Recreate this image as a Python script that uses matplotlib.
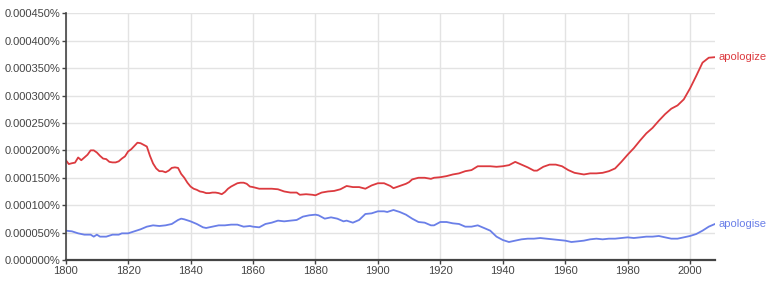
import numpy as np
import matplotlib.pyplot as plt
from matplotlib.ticker import FuncFormatter

plt.rcParams['font.family'] = ['Liberation Sans', 'DejaVu Sans']

# values in percent
years_red = [1800, 1801, 1802, 1803, 1804, 1805, 1806, 1807, 1808, 1809, 1810, 1811, 1812, 1813,
             1814, 1815, 1816, 1817, 1818, 1819, 1820, 1821, 1822, 1823, 1824, 1825, 1826, 1827,
             1828, 1829, 1830, 1831, 1832, 1833, 1834, 1835, 1836, 1837, 1838, 1839, 1840, 1841,
             1842, 1843, 1844, 1845, 1846, 1847, 1848, 1849, 1850, 1851, 1852, 1853, 1854, 1855,
             1856, 1857, 1858, 1859, 1860, 1862, 1864, 1866, 1868, 1870, 1872, 1874, 1875, 1877,
             1879, 1880, 1882, 1884, 1886, 1888, 1890, 1892, 1894, 1896, 1898, 1900, 1902, 1904,
             1905, 1907, 1909, 1910, 1911, 1913, 1915, 1917, 1918, 1920, 1922, 1924, 1926, 1928,
             1930, 1932, 1934, 1936, 1938, 1940, 1942, 1944, 1946, 1948, 1950, 1951, 1953, 1955,
             1957, 1959, 1961, 1963, 1966, 1968, 1970, 1972, 1974, 1976, 1978, 1980, 1982, 1984,
             1986, 1988, 1990, 1992, 1994, 1996, 1998, 2000, 2002, 2004, 2006, 2008]
apologize = [0.0001824, 0.000175, 0.0001765, 0.0001776, 0.000187, 0.000182, 0.000187, 0.000192,
             0.0002, 0.0002, 0.000196, 0.00019, 0.000185, 0.000184, 0.000179, 0.000178, 0.000178,
             0.00018, 0.000185, 0.000189, 0.000198, 0.000202, 0.000208, 0.000214, 0.000213,
             0.00021, 0.000207, 0.00019, 0.000176, 0.000167, 0.000162, 0.000162, 0.00016,
             0.000163, 0.000168, 0.000169, 0.000168, 0.000157, 0.00015, 0.000141, 0.000134,
             0.00013, 0.000128, 0.000125, 0.000124, 0.000122, 0.000122, 0.000123, 0.000123,
             0.000122, 0.00012, 0.000124, 0.00013, 0.000134, 0.000137, 0.00014, 0.000141,
             0.000141, 0.000139, 0.000134, 0.000133, 0.00013, 0.00013, 0.00013, 0.000129,
             0.000125, 0.000123, 0.000123, 0.000119, 0.00012, 0.000119, 0.000118, 0.000123,
             0.000125, 0.000126, 0.000129, 0.000135, 0.000133, 0.000133, 0.00013, 0.000136,
             0.00014, 0.00014, 0.000135, 0.000131, 0.000135, 0.000139, 0.000142, 0.000147,
             0.00015, 0.00015, 0.000148, 0.00015, 0.000151, 0.000153, 0.000156, 0.000158,
             0.000162, 0.000164, 0.000171, 0.000171, 0.000171, 0.00017, 0.000171, 0.000173,
             0.000179, 0.000174, 0.000169, 0.000163, 0.000163, 0.00017, 0.000174, 0.000174,
             0.000171, 0.000164, 0.000159, 0.000156, 0.000158, 0.000158, 0.000159, 0.000162,
             0.000167, 0.000179, 0.000192, 0.000204, 0.000218, 0.000231, 0.000241, 0.000254,
             0.000266, 0.000276, 0.000282, 0.000293, 0.000313, 0.000336, 0.00036, 0.000369,
             0.00037]

years_blue = [1800, 1802, 1804, 1806, 1808, 1809, 1810, 1811, 1813, 1815, 1817, 1818, 1820, 1822,
              1824, 1826, 1828, 1830, 1832, 1834, 1836, 1837, 1838, 1840, 1842, 1844, 1845, 1847,
              1849, 1851, 1853, 1855, 1857, 1859, 1860, 1862, 1864, 1866, 1868, 1870, 1872, 1874,
              1876, 1878, 1880, 1881, 1883, 1885, 1887, 1889, 1890, 1892, 1894, 1896, 1898, 1900,
              1902, 1903, 1905, 1907, 1909, 1911, 1913, 1915, 1917, 1918, 1920, 1922, 1924, 1926,
              1928, 1930, 1932, 1934, 1936, 1938, 1940, 1942, 1944, 1946, 1948, 1950, 1952, 1954,
              1956, 1958, 1960, 1962, 1964, 1966, 1968, 1970, 1972, 1974, 1976, 1978, 1980, 1982,
              1984, 1986, 1988, 1990, 1992, 1994, 1996, 1998, 2000, 2002, 2004, 2006, 2008]
apologise = [0.0000535, 0.0000523, 0.0000486, 0.0000462, 0.0000462, 0.0000426, 0.0000462,
             0.0000426, 0.0000426, 0.0000462, 0.0000462, 0.0000486, 0.0000486, 0.0000523,
             0.000056, 0.0000608, 0.0000632, 0.000062, 0.0000632, 0.0000657, 0.000073,
             0.0000754, 0.0000742, 0.0000705, 0.0000657, 0.0000596, 0.0000584, 0.0000608,
             0.0000632, 0.0000632, 0.0000645, 0.0000645, 0.0000608, 0.000062, 0.0000608,
             0.0000596, 0.0000657, 0.0000681, 0.0000718, 0.0000705, 0.0000718, 0.000073,
             0.0000791, 0.0000815, 0.0000827, 0.0000815, 0.0000754, 0.0000778, 0.0000754,
             0.0000705, 0.0000718, 0.0000681, 0.000073, 0.0000839, 0.0000851, 0.0000888,
             0.0000888, 0.0000876, 0.0000912, 0.0000876, 0.0000827, 0.0000754, 0.0000693,
             0.0000681, 0.0000632, 0.0000632, 0.0000693, 0.0000693, 0.0000669, 0.0000657,
             0.0000608, 0.0000608, 0.0000632, 0.0000584, 0.0000535, 0.0000426, 0.0000365,
             0.0000328, 0.0000353, 0.0000377, 0.0000389, 0.0000389, 0.0000401, 0.0000389,
             0.0000377, 0.0000365, 0.0000353, 0.0000328, 0.000034, 0.0000353, 0.0000377,
             0.0000389, 0.0000377, 0.0000389, 0.0000389, 0.0000401, 0.0000413, 0.0000401,
             0.0000413, 0.0000426, 0.0000426, 0.0000438, 0.0000413, 0.0000389, 0.0000389,
             0.0000413, 0.0000438, 0.0000474, 0.0000535, 0.0000608, 0.0000657]

red = '#dc3a3f'
blue = '#6a7fe8'

fig = plt.figure(figsize=(7.68, 2.83), dpi=100)
ax = fig.add_axes([0.0855, 0.0813, 0.8455, 0.8717])

ax.plot(years_red, apologize, color=red, lw=1.3)
ax.plot(years_blue, apologise, color=blue, lw=1.3)

ax.text(2009, apologize[-1], 'apologize', color=red, fontsize=8, va='center', ha='left',
        clip_on=False)
ax.text(2009, apologise[-1], 'apologise', color=blue, fontsize=8, va='center', ha='left',
        clip_on=False)

ax.set_xlim(1800, 2008)
ax.set_ylim(0, 0.00045)
ax.set_xticks(range(1800, 2001, 20))
ax.set_yticks(np.arange(0, 0.00045001, 0.00005))
ax.yaxis.set_major_formatter(FuncFormatter(lambda v, p: f'{v:.6f}%'))

ax.grid(True, color='#e3e3e3', lw=1)
ax.set_axisbelow(True)
for s in ['top', 'right']:
    ax.spines[s].set_visible(False)
ax.spines['left'].set_color('#444444')
ax.spines['left'].set_linewidth(1.2)
ax.spines['bottom'].set_color('#444444')
ax.spines['bottom'].set_linewidth(1.6)
ax.tick_params(axis='both', labelsize=8, labelcolor='#444444', color='#444444',
               length=3, width=1, pad=1)

fig.savefig('out.png', dpi=100)
